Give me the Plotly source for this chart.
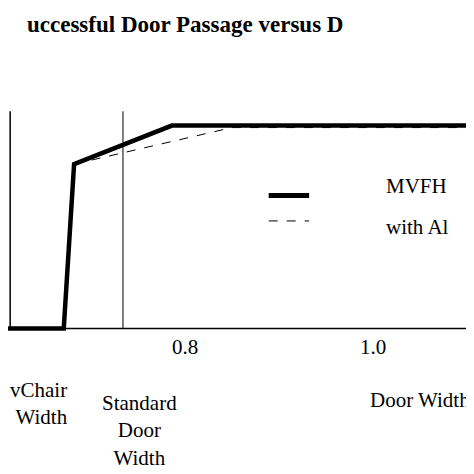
import plotly.graph_objects as go

mvfh_x = [0.60, 0.671, 0.682, 0.786, 1.12]
mvfh_y = [0, 0, 81, 100, 100]
al_x = [0.682, 0.85, 1.12]
al_y = [81, 99, 99]
tick_vals = [0.8, 1.0]
tick_text = ["0.8", "1.0"]

fig = go.Figure()
fig.add_trace(go.Scatter(x=mvfh_x, y=mvfh_y, mode="lines", line=dict(color="black", width=4.5)))
fig.add_trace(go.Scatter(x=al_x, y=al_y, mode="lines", line=dict(color="black", width=1, dash="dash")))
# legend samples
fig.add_trace(go.Scatter(x=[0.889, 0.932], y=[65.5, 65.5], mode="lines", line=dict(color="black", width=5)))
fig.add_trace(go.Scatter(x=[0.889, 0.932], y=[53, 53], mode="lines", line=dict(color="black", width=1, dash="dash")))

f = dict(family="Liberation Serif", size=21, color="black")
ann = [dict(x=1.012, y=70, text="MVFH", xanchor="left", showarrow=False, font=f),
       dict(x=1.012, y=50, text="with Al", xanchor="left", showarrow=False, font=f),
       dict(x=0.6117, y=-37, text="vChair<br>Width", xanchor="left", align="right", showarrow=False, font=f),
       dict(x=0.752, y=-50, text="Standard<br>Door<br>Width", showarrow=False, font=f),
       dict(x=1.05, y=-35, text="Door Width", showarrow=False, font=f),
       dict(x=0.8, y=150, text="<b>uccessful Door Passage versus D</b>", xanchor="center", showarrow=False,
            font=dict(family="Liberation Serif", size=23, color="black"))]
for v, t in zip(tick_vals, tick_text):
    ann.append(dict(x=v, y=-9, text=t, showarrow=False, font=f))

shapes = [dict(type="line", x0=0.6, x1=1.12, y0=0, y1=0, line=dict(color="black", width=1.5)),
          dict(type="line", x0=0.614, x1=0.614, y0=0, y1=107, line=dict(color="black", width=1.5)),
          dict(type="line", x0=0.734, x1=0.734, y0=0, y1=107, line=dict(color="black", width=1))]

fig.update_layout(width=474, height=474, margin=dict(l=0, r=0, t=0, b=0),
                  paper_bgcolor="white", plot_bgcolor="white", showlegend=False,
                  annotations=ann, shapes=shapes,
                  xaxis=dict(range=[0.6117, 1.1159], visible=False),
                  yaxis=dict(range=[-75.6, 157.9], visible=False))
fig.write_html("out.html")
